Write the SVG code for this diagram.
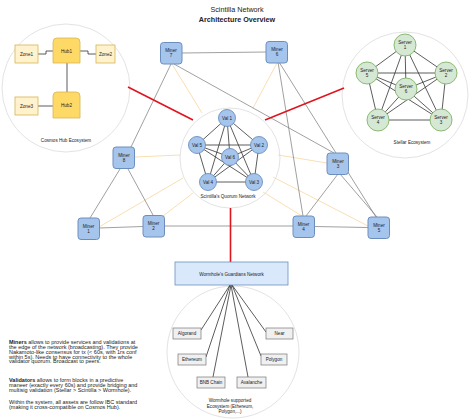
<svg xmlns="http://www.w3.org/2000/svg" width="474" height="419" viewBox="0 0 474 419">
<style>
text{font-family:"Liberation Sans",Arial,sans-serif;fill:#222}
.t{font-size:4.6px;text-anchor:middle}
.eco{fill:#fff;stroke:#e3e3e3;stroke-width:1}
.miner{fill:#a6c5ec;stroke:#6c8ebf;stroke-width:1}
.val{fill:#a6c5ec;stroke:#6c8ebf;stroke-width:0.9}
.srv{fill:#d5e8d4;stroke:#82b366;stroke-width:0.9}
.zone{fill:#fff2cc;stroke:#d6b656;stroke-width:0.8}
.hub{fill:#ffd966;stroke:#d6b656;stroke-width:0.8}
.chain{fill:#f0f0f0;stroke:#777;stroke-width:0.7}
.g{stroke:#777;stroke-width:0.7;fill:none}
.dk{stroke:#333;stroke-width:0.8;fill:none}
.o{stroke:#f9d5a0;stroke-width:0.8;fill:none}
.r{stroke:#e0141e;stroke-width:1.6;fill:none}
.para{font-size:5.5px}
</style>
<rect width="474" height="419" fill="#fff"/>
<g id="title">
<text x="237" y="12" font-size="7.2" text-anchor="middle">Scintilla Network</text>
<text x="237" y="21.5" font-size="7.2" font-weight="bold" text-anchor="middle">Architecture Overview</text>
</g>
<g id="cosmos-eco">
<circle class="eco" cx="66" cy="88" r="64"/>
<text class="t" x="66" y="142" font-size="4.2">Cosmos Hub Ecosystem</text>
</g>
<g id="stellar-eco">
<circle class="eco" cx="405" cy="95" r="63"/>
<text class="t" x="412" y="144" font-size="4.2">Stellar Ecosystem</text>
</g>
<g id="quorum-eco">
<circle class="eco" cx="230" cy="158" r="50"/>
</g>
<g id="wormhole-eco">
<circle class="eco" cx="233" cy="352" r="66"/>
</g>
<g id="connectors">
<polyline class="dk" points="38,54 46,54 46,51 53,51"/>
<polyline class="dk" points="80,51 88,51 88,54 96,54"/>
<line class="dk" x1="67" y1="63" x2="67" y2="92"/>
<line class="dk" x1="38" y1="106" x2="53" y2="106"/>
<g class="dk" stroke-width="0.6">
<line x1="405" y1="45" x2="367" y2="73"/><line x1="405" y1="45" x2="446" y2="73"/>
<line x1="405" y1="45" x2="406" y2="89"/><line x1="405" y1="45" x2="378" y2="120"/>
<line x1="405" y1="45" x2="441" y2="120"/><line x1="367" y1="73" x2="446" y2="73"/>
<line x1="367" y1="73" x2="406" y2="89"/><line x1="367" y1="73" x2="378" y2="120"/>
<line x1="367" y1="73" x2="441" y2="120"/><line x1="446" y1="73" x2="406" y2="89"/>
<line x1="446" y1="73" x2="378" y2="120"/><line x1="446" y1="73" x2="441" y2="120"/>
<line x1="406" y1="89" x2="378" y2="120"/><line x1="406" y1="89" x2="441" y2="120"/>
<line x1="378" y1="120" x2="441" y2="120"/>
</g>
<g class="dk" stroke-width="0.6">
<line x1="227" y1="118" x2="197" y2="145"/><line x1="227" y1="118" x2="259" y2="145"/>
<line x1="227" y1="118" x2="230" y2="157"/><line x1="227" y1="118" x2="208" y2="182"/>
<line x1="227" y1="118" x2="254" y2="182"/><line x1="197" y1="145" x2="259" y2="145"/>
<line x1="197" y1="145" x2="230" y2="157"/><line x1="197" y1="145" x2="208" y2="182"/>
<line x1="197" y1="145" x2="254" y2="182"/><line x1="259" y1="145" x2="230" y2="157"/>
<line x1="259" y1="145" x2="208" y2="182"/><line x1="259" y1="145" x2="254" y2="182"/>
<line x1="230" y1="157" x2="208" y2="182"/><line x1="230" y1="157" x2="254" y2="182"/>
<line x1="208" y1="182" x2="254" y2="182"/>
</g>
<line class="o" x1="172" y1="64" x2="202" y2="113"/>
<line class="o" x1="277" y1="63" x2="253" y2="108"/>
<line class="o" x1="135" y1="157" x2="180" y2="155"/>
<line class="o" x1="99" y1="227" x2="183" y2="178"/>
<line class="o" x1="163" y1="216" x2="193" y2="193"/>
<line class="o" x1="327" y1="163" x2="278" y2="155"/>
<line class="o" x1="302" y1="216" x2="263" y2="192"/>
<line class="o" x1="368" y1="226" x2="273" y2="177"/>
<line class="g" x1="182" y1="53" x2="266" y2="52"/>
<line class="g" x1="171" y1="64" x2="131" y2="147"/>
<line class="g" x1="174" y1="64" x2="334" y2="153"/>
<line class="g" x1="278" y1="62" x2="303" y2="216"/>
<line class="g" x1="279" y1="62" x2="376" y2="217"/>
<line class="g" x1="128" y1="169" x2="153" y2="215"/>
<line class="g" x1="120" y1="169" x2="90" y2="218"/>
<line class="g" x1="99" y1="228" x2="143" y2="226.5"/>
<line class="g" x1="164" y1="226" x2="293" y2="226"/>
<line class="g" x1="314" y1="226.5" x2="368" y2="227.5"/>
<line class="g" x1="338" y1="174" x2="306" y2="216"/>
<line class="g" x1="340" y1="174" x2="377" y2="217"/>
<line class="r" x1="128" y1="87" x2="193" y2="120"/>
<line class="r" x1="344" y1="88" x2="265" y2="120"/>
<line class="r" x1="230.5" y1="208" x2="230.5" y2="262"/>
<g class="dk" stroke-width="0.6">
<line x1="230" y1="285" x2="201" y2="330"/>
<line x1="230" y1="285" x2="206" y2="357"/>
<line x1="231" y1="285" x2="213" y2="377"/>
<line x1="231" y1="285" x2="248" y2="377"/>
<line x1="232" y1="285" x2="261" y2="356"/>
<line x1="232" y1="285" x2="266" y2="332"/>
</g>
</g>
<g id="zone1"><rect class="zone" x="15" y="45" width="23" height="18"/><text class="t" x="26.5" y="55.6">Zone1</text></g>
<g id="zone2"><rect class="zone" x="96" y="45" width="19" height="18"/><text class="t" x="105.5" y="55.6">Zone2</text></g>
<g id="zone3"><rect class="zone" x="15" y="97" width="23" height="18"/><text class="t" x="26.5" y="107.6">Zone3</text></g>
<g id="hub1"><path class="hub" d="M53,63 V42 Q53,38 57,38 H76 Q80,38 80,42 V63 Z"/><text class="t" x="66.5" y="52.5" font-size="5">Hub1</text></g>
<g id="hub2"><path class="hub" d="M53,118 V96 Q53,92 57,92 H76 Q80,92 80,96 V118 Z"/><text class="t" x="66.5" y="107" font-size="5">Hub2</text></g>
<g id="server1"><circle class="srv" cx="405" cy="45" r="11"/><text class="t" x="405" y="44">Server</text><text class="t" x="405" y="49">1</text></g>
<g id="server5"><circle class="srv" cx="367" cy="73" r="11"/><text class="t" x="367" y="72">Server</text><text class="t" x="367" y="77">5</text></g>
<g id="server2"><circle class="srv" cx="446" cy="73" r="11"/><text class="t" x="446" y="72">Server</text><text class="t" x="446" y="77">2</text></g>
<g id="server6"><circle class="srv" cx="406" cy="89" r="11"/><text class="t" x="406" y="88">Server</text><text class="t" x="406" y="93">6</text></g>
<g id="server4"><circle class="srv" cx="378" cy="120" r="11"/><text class="t" x="378" y="119">Server</text><text class="t" x="378" y="124">4</text></g>
<g id="server3"><circle class="srv" cx="441" cy="120" r="11"/><text class="t" x="441" y="119">Server</text><text class="t" x="441" y="124">3</text></g>
<g id="val1"><circle class="val" cx="227" cy="118" r="8.5"/><text class="t" x="227" y="119.7">Val 1</text></g>
<g id="val5"><circle class="val" cx="197" cy="145" r="8.5"/><text class="t" x="197" y="146.7">Val 5</text></g>
<g id="val2"><circle class="val" cx="259" cy="145" r="8.5"/><text class="t" x="259" y="146.7">Val 2</text></g>
<g id="val6"><circle class="val" cx="230" cy="157" r="8.5"/><text class="t" x="230" y="158.7">Val 6</text></g>
<g id="val4"><circle class="val" cx="208" cy="182" r="8.5"/><text class="t" x="208" y="183.7">Val 4</text></g>
<g id="val3"><circle class="val" cx="254" cy="182" r="8.5"/><text class="t" x="254" y="183.7">Val 3</text></g>
<g id="quorum-label"><text class="t" x="228" y="198" font-size="4.5">Scintilla's Quorum Network</text></g>
<g id="miner7"><rect class="miner" x="160.5" y="42.5" width="21.5" height="21.5" rx="3"/><text class="t" x="171" y="52">Miner</text><text class="t" x="171" y="57">7</text></g>
<g id="miner6"><rect class="miner" x="266" y="41.5" width="21.5" height="21.5" rx="3"/><text class="t" x="277" y="51">Miner</text><text class="t" x="277" y="56">6</text></g>
<g id="miner8"><rect class="miner" x="113" y="147" width="21.5" height="21.5" rx="3"/><text class="t" x="124" y="156.5">Miner</text><text class="t" x="124" y="161.5">8</text></g>
<g id="miner1"><rect class="miner" x="78" y="218" width="21.5" height="21.5" rx="3"/><text class="t" x="88.5" y="227.5">Miner</text><text class="t" x="88.5" y="232.5">1</text></g>
<g id="miner2"><rect class="miner" x="143" y="215.5" width="21.5" height="21.5" rx="3"/><text class="t" x="153.5" y="225">Miner</text><text class="t" x="153.5" y="230">2</text></g>
<g id="miner3"><rect class="miner" x="327" y="153" width="21.5" height="21.5" rx="3"/><text class="t" x="338" y="162.5">Miner</text><text class="t" x="338" y="167.5">3</text></g>
<g id="miner4"><rect class="miner" x="293" y="216" width="21.5" height="21.5" rx="3"/><text class="t" x="303.5" y="225.5">Miner</text><text class="t" x="303.5" y="230.5">4</text></g>
<g id="miner5"><rect class="miner" x="368" y="217" width="21.5" height="21.5" rx="3"/><text class="t" x="379" y="226.5">Miner</text><text class="t" x="379" y="231.5">5</text></g>
<g id="wormhole"><rect x="175" y="262" width="113" height="23" fill="#dae8fc" stroke="#6c8ebf" stroke-width="0.8"/><text class="t" x="231.5" y="275.5" font-size="5">Wormhole's Guardians Network</text></g>
<g id="algorand"><rect class="chain" x="173" y="328" width="28" height="11"/><text class="t" x="187" y="335.3" font-size="4.2">Algorand</text></g>
<g id="near"><rect class="chain" x="266" y="328" width="27" height="11"/><text class="t" x="279.5" y="335.3" font-size="4.2">Near</text></g>
<g id="ethereum"><rect class="chain" x="178" y="354" width="28" height="11"/><text class="t" x="192" y="361.3" font-size="4.2">Ethereum</text></g>
<g id="polygon"><rect class="chain" x="261" y="354" width="26" height="11"/><text class="t" x="274" y="361.3" font-size="4.2">Polygon</text></g>
<g id="bnb"><rect class="chain" x="197" y="377" width="28" height="11"/><text class="t" x="211" y="384.3" font-size="4.2">BNB Chain</text></g>
<g id="avalanche"><rect class="chain" x="237" y="377" width="29" height="11"/><text class="t" x="251.5" y="384.3" font-size="4.2">Avalanche</text></g>
<g id="wormhole-label">
<text class="t" x="230" y="402" font-size="4.3">Wormhole supported</text>
<text class="t" x="230" y="407.5" font-size="4.3">Ecosystem (Ethereum,</text>
<text class="t" x="230" y="413" font-size="4.3">Polygon,...)</text>
</g>
<g id="notes" class="para">
<text x="9" y="344"><tspan font-weight="bold">Miners</tspan> allows to provide services and validations at</text>
<text x="9" y="349">the edge of the network (broadcasting). They provide</text>
<text x="9" y="353.8">Nakamoto-like consensus for tx (&lt; 60s, with 1rs conf</text>
<text x="9" y="358.6">within 5s). Needs to have connectivity to the whole</text>
<text x="9" y="363.4">validator quorum. Broadcast to peers.</text>
<text x="9" y="382"><tspan font-weight="bold">Validators</tspan> allows to form blocks in a predictive</text>
<text x="9" y="386.8">maneer (exactly every 60s) and provide bridging and</text>
<text x="9" y="391.6">multisig validation (Stellar &gt; Scintilla &gt; Wormhole).</text>
<text x="9" y="404">Within the system, all assets are follow IBC standard</text>
<text x="9" y="408.8">(making it cross-compatible on Cosmos Hub).</text>
</g>
</svg>
